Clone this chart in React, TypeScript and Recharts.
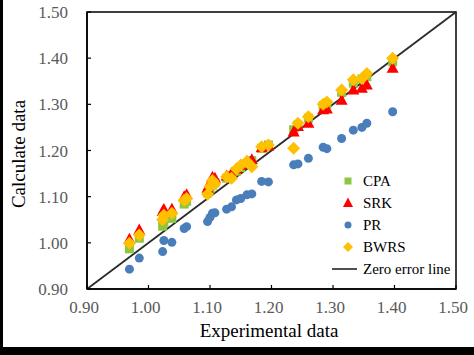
import { ScatterChart, Scatter, XAxis, YAxis, ReferenceLine, ReferenceArea } from "recharts";

// experimental values shared by all four models
const experimental = [
  0.969, 0.985, 1.023, 1.025, 1.038, 1.058, 1.062, 1.096, 1.1, 1.104, 1.108, 1.127, 1.135, 1.143, 1.15,
  1.16, 1.168, 1.184, 1.195, 1.236, 1.243, 1.26, 1.284, 1.29, 1.314, 1.333, 1.347, 1.355, 1.397,
];
const cpaCalc = [
  0.987, 1.01, 1.036, 1.045, 1.053, 1.084, 1.09, 1.108, 1.117, 1.125, 1.13, 1.14, 1.146, 1.155, 1.163,
  1.172, 1.178, 1.205, 1.212, 1.245, 1.255, 1.27, 1.297, 1.3, 1.326, 1.346, 1.355, 1.36, 1.392,
];
const srkCalc = [
  1.008, 1.028, 1.068, 1.072, 1.073, 1.1, 1.104, 1.118, 1.13, 1.142, 1.14, 1.145, 1.15, 1.16, 1.168,
  1.176, 1.18, 1.206, 1.21, 1.24, 1.252, 1.259, 1.288, 1.29, 1.309, 1.331, 1.335, 1.342, 1.378,
];
const prCalc = [
  0.943, 0.967, 0.981, 1.005, 1.001, 1.031, 1.035, 1.046, 1.055, 1.064, 1.065, 1.073, 1.078, 1.093, 1.096,
  1.104, 1.106, 1.133, 1.132, 1.169, 1.171, 1.183, 1.207, 1.204, 1.226, 1.244, 1.25, 1.259, 1.284,
];
const bwrsCalc = [
  0.999, 1.017, 1.05, 1.06, 1.064, 1.092, 1.096, 1.105, 1.122, 1.135, 1.128, 1.143, 1.14, 1.16, 1.168,
  1.176, 1.165, 1.208, 1.212, 1.205, 1.259, 1.273, 1.3, 1.305, 1.331, 1.353, 1.356, 1.367, 1.4,
];
const axisTicks = [0.9, 1.0, 1.1, 1.2, 1.3, 1.4, 1.5];
const seriesNames = ["CPA", "SRK", "PR", "BWRS"];

const toPoints = (calc: number[]) => experimental.map((x, i) => ({ x, y: calc[i] }));

const GREEN = "#8DC63F";
const RED = "#FF0000";
const BLUE = "#4A7EBB";
const GOLD = "#FFC000";
const FONT = "Liberation Serif";

const Square = ({ cx, cy }: any) => <rect x={cx - 4.5} y={cy - 4.5} width={9} height={9} fill={GREEN} />;
const Triangle = ({ cx, cy }: any) => (
  <polygon points={`${cx},${cy - 6.5} ${cx + 6},${cy + 4.5} ${cx - 6},${cy + 4.5}`} fill={RED} />
);
const Dot = ({ cx, cy }: any) => <circle cx={cx} cy={cy} r={4.5} fill={BLUE} />;
const Diamond = ({ cx, cy }: any) => (
  <polygon points={`${cx},${cy - 6.5} ${cx + 6.5},${cy} ${cx},${cy + 6.5} ${cx - 6.5},${cy}`} fill={GOLD} />
);

const XTick = ({ x, y, payload }: any) => (
  <text x={x - 3} y={y + 26} textAnchor="middle" fontFamily={FONT} fontSize={17} fill="#5a5a5a">
    {Number(payload.value).toFixed(2)}
  </text>
);
const YTick = ({ x, y, payload }: any) => (
  <text x={68} y={y + 6} textAnchor="end" fontFamily={FONT} fontSize={17} fill="#5a5a5a">
    {Number(payload.value).toFixed(2)}
  </text>
);

const legendMarkers = [
  <rect key="s" x={14.5} y={7.5} width={7} height={7} fill={GREEN} />,
  <polygon key="t" points="18,5.5 23,15 13,15" fill={RED} />,
  <circle key="c" cx={18} cy={11} r={3.5} fill={BLUE} />,
  <polygon key="d" points="18,6 23,11 18,16 13,11" fill={GOLD} />,
];

const LegendBox = () => (
  <div style={{ position: "absolute", left: 330, top: 170, fontFamily: FONT, fontSize: 15, color: "#000" }}>
    {seriesNames.map((name, i) => (
      <div key={name} style={{ display: "flex", alignItems: "center", height: 22 }}>
        <svg width={28} height={22}>{legendMarkers[i]}</svg>
        <span style={{ marginLeft: 5, fontFamily: FONT }}>{name}</span>
      </div>
    ))}
    <div style={{ display: "flex", alignItems: "center", height: 22 }}>
      <svg width={28} height={22}>
        <line x1={2} y1={11} x2={27} y2={11} stroke="#222" strokeWidth={1.6} />
      </svg>
      <span style={{ marginLeft: 5, fontFamily: FONT }}>Zero error line</span>
    </div>
  </div>
);

export default function App() {
  return (
    <div style={{ position: "absolute", left: 0, top: 0, width: 474, height: 355, background: "#fff" }}>
      <ScatterChart width={474} height={355} margin={{ top: 12, right: 18, bottom: 0, left: 0 }}>
        <XAxis
          type="number"
          dataKey="x"
          domain={[0.9, 1.5]}
          ticks={axisTicks}
          allowDataOverflow
          tick={<XTick />}
          tickSize={-4}
          height={66}
          axisLine={{ stroke: "#000", strokeWidth: 1.5 }}
          tickLine={{ stroke: "#000", strokeWidth: 1.2 }}
          label={{
            content: () => (
              <text x={269} y={337} textAnchor="middle" fontFamily={FONT} fontSize={19} fill="#000">
                Experimental data
              </text>
            ),
          }}
        />
        <YAxis
          type="number"
          dataKey="y"
          domain={[0.9, 1.5]}
          ticks={axisTicks}
          allowDataOverflow
          tick={<YTick />}
          tickSize={-4}
          width={87}
          axisLine={{ stroke: "#000", strokeWidth: 1.5 }}
          tickLine={{ stroke: "#000", strokeWidth: 1.2 }}
          label={{
            content: () => (
              <text
                x={25}
                y={154}
                transform="rotate(-90 25 154)"
                textAnchor="middle"
                fontFamily={FONT}
                fontSize={19}
                fill="#000"
              >
                Calculate data
              </text>
            ),
          }}
        />
        <ReferenceArea x1={0.9} x2={1.5} y1={0.9} y2={1.5} fill="none" stroke="#000" strokeWidth={1.5} fillOpacity={0} />
        <ReferenceLine
          segment={[
            { x: 0.9, y: 0.9 },
            { x: 1.5, y: 1.5 },
          ]}
          stroke="#2b2b2b"
          strokeWidth={1.8}
        />
        <Scatter name="CPA" data={toPoints(cpaCalc)} shape={Square} isAnimationActive={false} />
        <Scatter name="SRK" data={toPoints(srkCalc)} shape={Triangle} isAnimationActive={false} />
        <Scatter name="PR" data={toPoints(prCalc)} shape={Dot} isAnimationActive={false} />
        <Scatter name="BWRS" data={toPoints(bwrsCalc)} shape={Diamond} isAnimationActive={false} />
      </ScatterChart>
      <LegendBox />
      <div style={{ position: "absolute", left: 0, top: 0, width: 3, height: 355, background: "#000" }} />
      <div style={{ position: "absolute", left: 0, top: 347, width: 474, height: 8, background: "#000" }} />
    </div>
  );
}
